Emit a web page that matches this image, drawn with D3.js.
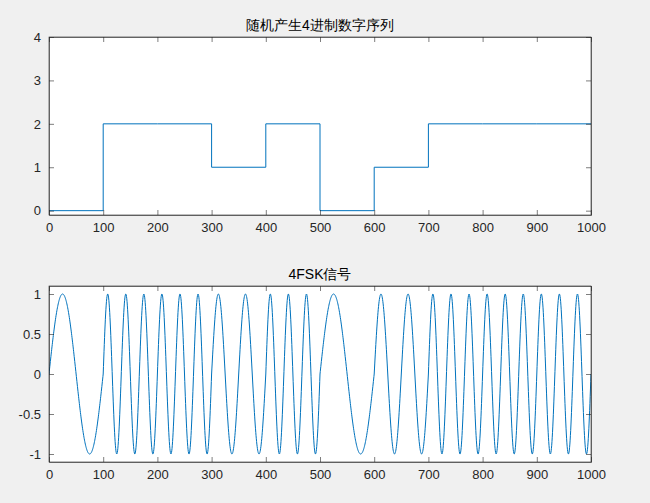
<!DOCTYPE html>
<html><head><meta charset="utf-8">
<script src="https://cdn.jsdelivr.net/npm/d3@7"></script>
<style>body{margin:0;background:#f0f0f0}svg{display:block}text{font-family:"Liberation Sans",Arial,sans-serif}</style>
</head><body>
<script>
const symbolStarts = [0,100,200,300,400,500,600,700,800,900];
const symbols = [0,2,2,1,2,0,1,2,2,2];
const xTicks = [0,100,200,300,400,500,600,700,800,900,1000];
const yTicksTop = [0,1,2,3,4];
const yTicksBot = [-1,-0.5,0,0.5,1];
const title1 = "随机产生4进制数字序列";
const title2 = "4FSK信号";

const W=650,H=503,color="#0072BD";
const svg=d3.select("body").append("svg").attr("width",W).attr("height",H);
svg.append("rect").attr("width",W).attr("height",H).attr("fill","#f0f0f0");
const x1=49,x2=591;
const fmt=d=>String(d);

function panel(top,bot,ydom,yt,title,data,curve){
  const x=d3.scaleLinear().domain([0,1000]).range([x1,x2]);
  const y=d3.scaleLinear().domain(ydom).range([bot,top]);
  const g=svg.append("g");
  g.append("rect").attr("x",x1).attr("y",top).attr("width",x2-x1).attr("height",bot-top).attr("fill","#fff");
  const cid="c"+top;
  g.append("clipPath").attr("id",cid).append("rect").attr("x",x1).attr("y",top).attr("width",x2-x1).attr("height",bot-top);
  g.append("path").datum(data).attr("clip-path",`url(#${cid})`).attr("fill","none").attr("stroke",color).attr("stroke-width",1)
   .attr("d",d3.line().x(d=>x(d[0])).y(d=>y(d[1])).curve(curve));
  g.append("g").attr("transform",`translate(0,${bot})`).call(d3.axisBottom(x).tickValues(xTicks).tickFormat(fmt).tickSizeInner(-5).tickSizeOuter(0).tickPadding(8));
  g.append("g").attr("transform",`translate(${x1},0)`).call(d3.axisLeft(y).tickValues(yt).tickFormat(fmt).tickSizeInner(-5).tickSizeOuter(0).tickPadding(8));
  g.append("g").attr("transform",`translate(0,${top})`).call(d3.axisTop(x).tickValues(xTicks).tickSizeInner(-5).tickSizeOuter(0).tickFormat(""));
  g.append("g").attr("transform",`translate(${x2},0)`).call(d3.axisRight(y).tickValues(yt).tickSizeInner(-5).tickSizeOuter(0).tickFormat(""));
  g.selectAll(".domain,.tick line").attr("stroke","#262626").attr("stroke-width",0.6);
  g.selectAll(".tick text").attr("fill","#262626").attr("font-size",13);
  g.append("rect").attr("x",x1).attr("y",top).attr("width",x2-x1).attr("height",bot-top).attr("fill","none").attr("stroke","#262626").attr("stroke-width",0.6);
  g.append("text").attr("x",(x1+x2)/2).attr("y",top-7).attr("text-anchor","middle").attr("font-size",14).attr("fill","#000").text(title);
}

const step=[];
symbols.forEach((s,i)=>{step.push([symbolStarts[i],s]);});
step.push([1000,symbols[symbols.length-1]]);
panel(37,215,[-0.1,4],yTicksTop,title1,step,d3.curveStepAfter);

const sig=[];
for(let t=0;t<=1000;t+=0.5){
  const i=Math.min(symbols.length-1,Math.floor(t/100));
  sig.push([t,Math.sin(2*Math.PI*(symbols[i]+1)*t/100)]);
}
panel(286,462,[-1.1,1.1],yTicksBot,title2,sig,d3.curveLinear);
</script>
</body></html>
